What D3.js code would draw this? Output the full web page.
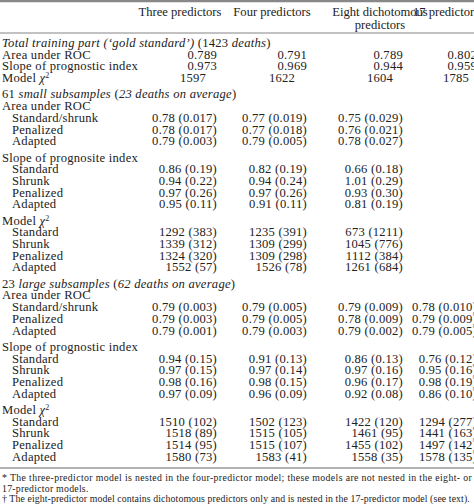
<!DOCTYPE html><html><head><meta charset="utf-8">
<script src="https://cdn.jsdelivr.net/npm/d3@7"></script>
<style>body{margin:0;background:#fff;overflow:hidden}text{font-family:"Liberation Serif","DejaVu Serif",serif;fill:#222;letter-spacing:0.25px}</style></head><body>
<script>
const columns=["Three predictors","Four predictors","Eight dichotomous|predictors","17 predictors"];
const totalRows=[["Area under ROC",["0.789","0.791","0.789","0.802"]],["Slope of prognostic index",["0.973","0.969","0.944","0.959"]],["Model χ²",["1597","1622","1604","1785"]]];
const smallRows=[
 {h:"Area under ROC",r:[["Standard/shrunk",["0.78 (0.017)","0.77 (0.019)","0.75 (0.029)",""]],["Penalized",["0.78 (0.017)","0.77 (0.018)","0.76 (0.021)",""]],["Adapted",["0.79 (0.003)","0.79 (0.005)","0.78 (0.027)",""]]]},
 {h:"Slope of prognosite index",r:[["Standard",["0.86 (0.19)","0.82 (0.19)","0.66 (0.18)",""]],["Shrunk",["0.94 (0.22)","0.94 (0.24)","1.01 (0.29)",""]],["Penalized",["0.97 (0.26)","0.97 (0.26)","0.93 (0.30)",""]],["Adapted",["0.95 (0.11)","0.91 (0.11)","0.81 (0.19)",""]]]},
 {h:"Model χ²",r:[["Standard",["1292 (383)","1235 (391)","673 (1211)",""]],["Shrunk",["1339 (312)","1309 (299)","1045 (776)",""]],["Penalized",["1324 (320)","1309 (298)","1112 (384)",""]],["Adapted",["1552 (57)","1526 (78)","1261 (684)",""]]]}];
const largeRows=[
 {h:"Area under ROC",r:[["Standard/shrunk",["0.79 (0.003)","0.79 (0.005)","0.79 (0.009)","0.78 (0.010)"]],["Penalized",["0.79 (0.003)","0.79 (0.005)","0.78 (0.009)","0.79 (0.009)"]],["Adapted",["0.79 (0.001)","0.79 (0.003)","0.79 (0.002)","0.79 (0.005)"]]]},
 {h:"Slope of prognostic index",r:[["Standard",["0.94 (0.15)","0.91 (0.13)","0.86 (0.13)","0.76 (0.12)"]],["Shrunk",["0.97 (0.15)","0.97 (0.14)","0.97 (0.16)","0.95 (0.16)"]],["Penalized",["0.98 (0.16)","0.98 (0.15)","0.96 (0.17)","0.98 (0.19)"]],["Adapted",["0.97 (0.09)","0.96 (0.09)","0.92 (0.08)","0.86 (0.10)"]]]},
 {h:"Model χ²",r:[["Standard",["1510 (102)","1502 (123)","1422 (120)","1294 (277)"]],["Shrunk",["1518 (89)","1515 (105)","1461 (95)","1441 (163)"]],["Penalized",["1514 (95)","1515 (107)","1455 (102)","1497 (142)"]],["Adapted",["1580 (73)","1583 (41)","1558 (35)","1578 (135)"]]]}];
const footnotes=["* The three-predictor model is nested in the four-predictor model; these models are not nested in the eight- or","17-predictor models.","† The eight-predictor model contains dichotomous predictors only and is nested in the 17-predictor model (see text)."];

const W=474,H=504;
const svg=d3.select("body").append("svg").attr("width",W).attr("height",H);
const colRight=d3.scaleOrdinal().domain(d3.range(4)).range([217,307,403,477]);
const colCenter=d3.scaleOrdinal().domain(d3.range(4)).range([180,272,380,446]);
const chiCenter=d3.scaleOrdinal().domain(d3.range(4)).range([193,282,380,456]);
const fs=12.6;
const rows=[];
rows.push({t:"Total",it:true});
totalRows.forEach((r,i)=>rows.push({t:r[0],v:r[1],chi:i==2}));
function grp(title,g){rows.push({t:title,it:true,gap:true});g.forEach((s,k)=>{rows.push({t:s.h,gap:k>0});s.r.forEach(r=>rows.push({t:r[0],v:r[1],ind:true}));});}
grp("61 small subsamples (23 deaths on average)",smallRows);
grp("23 large subsamples (62 deaths on average)",largeRows);
let y=47;rows.forEach((r,i)=>{if(i>0){y+=11.7;if(r.gap)y+=4.6;}r.y=y;});

svg.append("line").attr("x1",0).attr("x2",W).attr("y1",1).attr("y2",1).attr("stroke","#888").attr("stroke-width",2.5);
svg.append("line").attr("x1",0).attr("x2",W).attr("y1",33).attr("y2",33).attr("stroke","#666").attr("stroke-width",0.8);
svg.append("line").attr("x1",0).attr("x2",W).attr("y1",468).attr("y2",468).attr("stroke","#666").attr("stroke-width",1);
columns.forEach((c,i)=>c.split("|").forEach((p,j)=>svg.append("text").attr("x",colCenter(i)).attr("y",16+j*12.5).attr("text-anchor","middle").attr("font-size",fs).attr("style","letter-spacing:0").text(p)));
rows.forEach(r=>{
 const t=svg.append("text").attr("x",r.ind?12:2).attr("y",r.y).attr("font-size",fs);
 if(r.it){
  if(r.t=="Total"){t.append("tspan").attr("font-style","italic").text("Total training part (‘gold standard’) ");t.append("tspan").text("(1423 ");t.append("tspan").attr("font-style","italic").text("deaths");t.append("tspan").text(")");}
  else{const n=r.t.match(/^(\d+) (.*?) \((\d+) (.*)\)$/);
   t.append("tspan").text(n[1]+" ");t.append("tspan").attr("font-style","italic").text(n[2]+" ");t.append("tspan").text("(");t.append("tspan").attr("font-style","italic").text(n[3]+" "+n[4]);t.append("tspan").text(")");}
 } else if(r.t.includes("χ²")){t.text("Model ");t.append("tspan").attr("font-style","italic").text("χ");t.append("tspan").attr("font-size",8).attr("dy",-4).text("2");}
 else t.text(r.t);
 if(r.v)r.v.forEach((v,i)=>{if(!v)return;svg.append("text").attr("x",r.chi?chiCenter(i):colRight(i)).attr("y",r.y).attr("text-anchor",r.chi?"middle":"end").attr("font-size",fs).text(v);});
});
footnotes.forEach((f,i)=>{const t=svg.append("text").attr("x",2).attr("y",481+i*10.5).attr("font-size",9.8).text(f);if(i!=1)t.attr("textLength",i==0?470:468).attr("lengthAdjust","spacing");});
</script></body></html>
